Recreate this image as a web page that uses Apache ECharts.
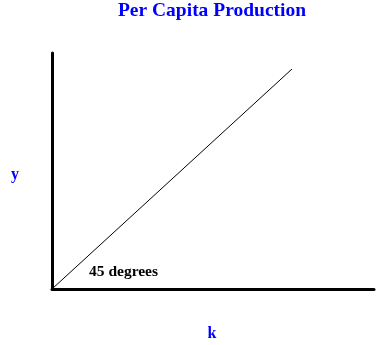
<!DOCTYPE html>
<html>
<head>
<meta charset="utf-8">
<script src="https://cdn.jsdelivr.net/npm/echarts@6/dist/echarts.min.js"></script>
<style>html,body{margin:0;padding:0;background:#fff;}#c{width:384px;height:345px;}</style>
</head>
<body>
<div id="c"></div>
<script>
// Data: 45-degree line y = k
const kValues = [0, 1];
const yValues = [0, 1];
const titleText = 'Per Capita Production';
const xLabel = 'k';
const yLabel = 'y';
const angleLabel = '45 degrees';

const chart = echarts.init(document.getElementById('c'), null, {renderer: 'canvas'});
const serif = '"Liberation Serif", "Times New Roman", serif';
chart.setOption({
  animation: false,
  backgroundColor: '#ffffff',
  grid: {left: 52, top: 53, right: 10, bottom: 56, containLabel: false},
  xAxis: {
    type: 'value', min: 0, max: 1.342,
    axisLine: {show: true, onZero: false, lineStyle: {color: '#000', width: 3}},
    axisTick: {show: false}, axisLabel: {show: false}, splitLine: {show: false}
  },
  yAxis: {
    type: 'value', min: 0, max: 1.073,
    axisLine: {show: true, onZero: false, lineStyle: {color: '#000', width: 3}},
    axisTick: {show: false}, axisLabel: {show: false}, splitLine: {show: false}
  },
  series: [{
    type: 'line',
    data: kValues.map((k, i) => [k, yValues[i]]),
    showSymbol: false, symbol: 'none', silent: true,
    lineStyle: {color: '#000', width: 1}
  }],
  graphic: [
    {type: 'text', x: 212, y: 11, style: {text: titleText, font: 'bold 19.5px ' + serif, fill: '#0000ff', textAlign: 'center', textVerticalAlign: 'middle'}},
    {type: 'text', x: 15, y: 175, style: {text: yLabel, font: 'bold 16px ' + serif, fill: '#0000ff', textAlign: 'center', textVerticalAlign: 'middle'}},
    {type: 'text', x: 212, y: 334, style: {text: xLabel, font: 'bold 16px ' + serif, fill: '#0000ff', textAlign: 'center', textVerticalAlign: 'middle'}},
    {type: 'text', x: 89, y: 272, style: {text: angleLabel, font: 'bold 15.5px ' + serif, fill: '#000', textAlign: 'left', textVerticalAlign: 'middle'}}
  ]
});
</script>
</body>
</html>
